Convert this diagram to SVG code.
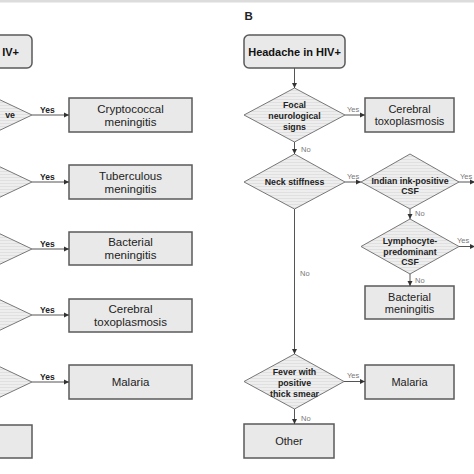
<svg xmlns="http://www.w3.org/2000/svg" width="474" height="474" viewBox="0 0 474 474">
<defs>
<pattern id="stripes" width="6" height="3" patternUnits="userSpaceOnUse">
<rect width="6" height="3" fill="#eeeeee"/>
<line x1="0" y1="0.5" x2="6" y2="0.5" stroke="#e0e0e0" stroke-width="1"/>
</pattern>
<marker id="arr" markerWidth="6" markerHeight="6" refX="5" refY="3" orient="auto" markerUnits="userSpaceOnUse">
<path d="M0,0.5 L5,3 L0,5.5 Z" fill="#333"/>
</marker>
</defs>
<style>
.box{fill:#e9e9e9;stroke:#5a5a5a;stroke-width:1.5}
.dia{fill:url(#stripes);stroke:#777;stroke-width:1}
.conn{stroke:#555;stroke-width:1;fill:none;marker-end:url(#arr)}
.bt{font-family:"Liberation Sans",Arial,sans-serif;font-size:11.5px;fill:#222;text-anchor:middle}
.btr{font-family:"Liberation Sans",Arial,sans-serif;font-size:11px;fill:#222;text-anchor:middle}
.dt{font-family:"Liberation Sans",Arial,sans-serif;font-size:8.8px;font-weight:bold;fill:#222;text-anchor:middle}
.ht{font-family:"Liberation Sans",Arial,sans-serif;font-size:11px;font-weight:bold;fill:#111;text-anchor:middle}
.ly{font-family:"Liberation Sans",Arial,sans-serif;font-size:8.5px;font-weight:bold;fill:#222}
.lr{font-family:"Liberation Sans",Arial,sans-serif;font-size:7.5px;fill:#777}
</style>
<rect x="0" y="0" width="474" height="2.5" fill="#dcdcdc"/>

<!-- Panel A (cropped) -->
<g id="a-start"><rect class="box" x="-70" y="35" width="102" height="33" rx="5"/><text class="ht" x="19" y="56" style="text-anchor:end">IV+</text></g>
<g id="a-d1"><polygon class="dia" points="-25,88 32,115 -25,142 -82,115"/><text class="dt" x="15" y="118" style="text-anchor:end">ve</text></g>
<g id="a-d2"><polygon class="dia" points="-25,155 32,182 -25,209 -82,182"/></g>
<g id="a-d3"><polygon class="dia" points="-25,222 32,249 -25,276 -82,249"/></g>
<g id="a-d4"><polygon class="dia" points="-25,288 32,315 -25,342 -82,315"/></g>
<g id="a-d5"><polygon class="dia" points="-25,355 32,382 -25,409 -82,382"/></g>
<g id="a-other"><rect class="box" x="-60" y="425" width="92" height="33"/></g>
<g id="a-crypto"><rect class="box" x="69" y="98" width="123" height="34"/><text class="bt" x="130.5" y="112.5">Cryptococcal</text><text class="bt" x="130.5" y="125.5">meningitis</text></g>
<g id="a-tb"><rect class="box" x="69" y="165" width="123" height="34"/><text class="bt" x="130.5" y="179.5">Tuberculous</text><text class="bt" x="130.5" y="192.5">meningitis</text></g>
<g id="a-bact"><rect class="box" x="69" y="232" width="123" height="33"/><text class="bt" x="130.5" y="246">Bacterial</text><text class="bt" x="130.5" y="259">meningitis</text></g>
<g id="a-toxo"><rect class="box" x="69" y="299" width="123" height="33"/><text class="bt" x="130.5" y="312.5">Cerebral</text><text class="bt" x="130.5" y="325.5">toxoplasmosis</text></g>
<g id="a-malaria"><rect class="box" x="69" y="365" width="123" height="34"/><text class="bt" x="130.5" y="386">Malaria</text></g>

<!-- Panel B -->
<text x="244.5" y="19.5" font-family="'Liberation Sans',Arial,sans-serif" font-size="11.5px" font-weight="bold" fill="#222">B</text>
<g id="b-start"><rect class="box" x="244" y="35" width="101" height="33" rx="5"/><text class="ht" x="294.5" y="56">Headache in HIV+</text></g>
<g id="b-focal"><polygon class="dia" points="294.5,88 345,115 294.5,142 244,115"/><text class="dt" x="294.5" y="107.5">Focal</text><text class="dt" x="294.5" y="118.5">neurological</text><text class="dt" x="294.5" y="129.5">signs</text></g>
<g id="b-toxo"><rect class="box" x="365" y="98" width="89" height="34"/><text class="btr" x="409.5" y="112.5">Cerebral</text><text class="btr" x="409.5" y="125">toxoplasmosis</text></g>
<g id="b-neck"><polygon class="dia" points="294.5,154 345,182 294.5,209 244,182"/><text class="dt" x="294.5" y="185">Neck stiffness</text></g>
<g id="b-ink"><polygon class="dia" points="410,154 459,182 410,209 361,182"/><text class="dt" x="410" y="183.5">Indian ink-positive</text><text class="dt" x="410" y="194">CSF</text></g>
<g id="b-lymph"><polygon class="dia" points="410,219 459,246.5 410,274 361,246.5"/><text class="dt" x="410" y="243.5">Lymphocyte-</text><text class="dt" x="410" y="254.5">predominant</text><text class="dt" x="410" y="265">CSF</text></g>
<g id="b-bact"><rect class="box" x="365" y="286" width="89" height="33"/><text class="btr" x="409.5" y="300.5">Bacterial</text><text class="btr" x="409.5" y="313">meningitis</text></g>
<g id="b-fever"><polygon class="dia" points="294.5,354 344,381.5 294.5,409 244,381.5"/><text class="dt" x="294.5" y="375">Fever with</text><text class="dt" x="294.5" y="386">positive</text><text class="dt" x="294.5" y="396.5">thick smear</text></g>
<g id="b-malaria"><rect class="box" x="365" y="365" width="89" height="34"/><text class="btr" x="409.5" y="386">Malaria</text></g>
<g id="b-other"><rect class="box" x="244" y="424" width="90" height="34"/><text class="btr" x="289" y="445">Other</text></g>

<g id="connectors">
<line class="conn" x1="32" y1="115" x2="69" y2="115"/>
<line class="conn" x1="32" y1="182" x2="69" y2="182"/>
<line class="conn" x1="32" y1="249" x2="69" y2="249"/>
<line class="conn" x1="32" y1="315" x2="69" y2="315"/>
<line class="conn" x1="32" y1="382" x2="69" y2="382"/>
<line class="conn" x1="294.5" y1="68" x2="294.5" y2="88"/>
<line class="conn" x1="345" y1="115" x2="365" y2="115"/>
<line class="conn" x1="294.5" y1="142" x2="294.5" y2="154"/>
<line class="conn" x1="345" y1="182" x2="361" y2="182"/>
<line class="conn" x1="459" y1="182" x2="475" y2="182"/>
<line class="conn" x1="410" y1="209" x2="410" y2="219"/>
<line class="conn" x1="459" y1="246.5" x2="475" y2="246.5"/>
<line class="conn" x1="410" y1="274" x2="410" y2="286"/>
<line class="conn" x1="294.5" y1="209" x2="294.5" y2="354"/>
<line class="conn" x1="344" y1="381.5" x2="365" y2="381.5"/>
<line class="conn" x1="294.5" y1="409" x2="294.5" y2="424"/>
<text class="ly" x="40" y="112.5">Yes</text>
<text class="ly" x="40" y="179.5">Yes</text>
<text class="ly" x="40" y="246.5">Yes</text>
<text class="ly" x="40" y="312.5">Yes</text>
<text class="ly" x="40" y="379.5">Yes</text>
<text class="lr" x="347" y="111.5">Yes</text>
<text class="lr" x="301" y="152">No</text>
<text class="lr" x="347" y="178.5">Yes</text>
<text class="lr" x="460" y="178.5">Yes</text>
<text class="lr" x="415" y="216">No</text>
<text class="lr" x="457" y="243">Yes</text>
<text class="lr" x="415" y="283">No</text>
<text class="lr" x="300" y="276">No</text>
<text class="lr" x="347" y="378">Yes</text>
<text class="lr" x="301" y="420.5">No</text>
</g>
</svg>
